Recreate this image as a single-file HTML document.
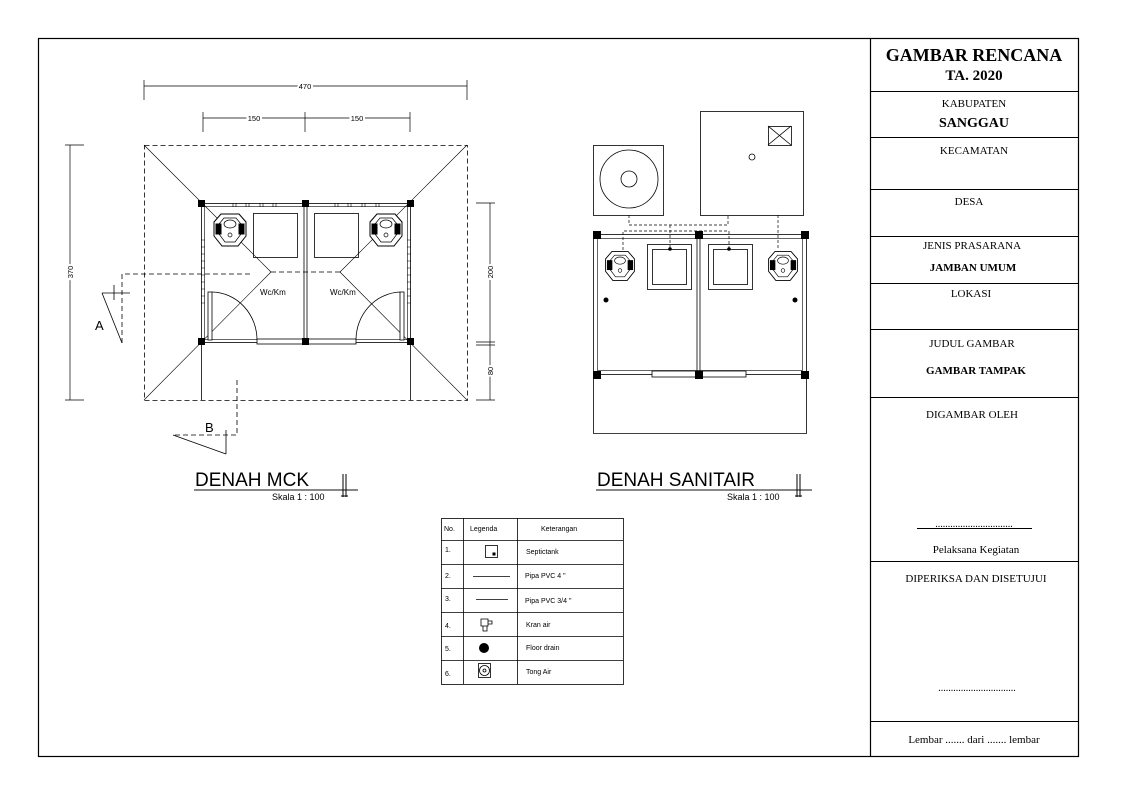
<!DOCTYPE html>
<html><head><meta charset="utf-8"><style>
html,body{margin:0;padding:0;background:#fff}
svg{display:block}
.s{font-family:"Liberation Serif","DejaVu Serif",serif;fill:#000}
.a{font-family:"Liberation Sans","DejaVu Sans",sans-serif;fill:#000}
</style></head><body>
<svg width="1122" height="793" viewBox="0 0 1122 793" xmlns="http://www.w3.org/2000/svg">
<defs>
<g id="wc">
 <path d="M-9,-16 L9,-16 L16,-8 L16,6 L8,16 L-8,16 L-16,6 L-16,-8 Z" fill="#fff" stroke="#000" stroke-width="1"/>
 <path d="M-6,-12 L6,-12 L11,-6 L11,4 L5,12 L-5,12 L-11,4 L-11,-6 Z" fill="none" stroke="#000" stroke-width="0.7"/>
 <rect x="-14" y="-6" width="5" height="10" fill="#000"/>
 <rect x="9" y="-6" width="5" height="10" fill="#000"/>
 <ellipse cx="0" cy="-6" rx="6" ry="4" fill="none" stroke="#000" stroke-width="0.7"/>
 <circle cx="0" cy="5" r="2" fill="none" stroke="#000" stroke-width="0.7"/>
</g>
</defs>
<g fill="none" stroke="#000">
<rect x="38.5" y="38.5" width="1040" height="718" stroke-width="1.2"/>
<line x1="870.5" y1="38" x2="870.5" y2="757" stroke-width="1.2"/>
<g stroke-width="1">
<line x1="870" y1="91.5" x2="1078" y2="91.5"/>
<line x1="870" y1="137.5" x2="1078" y2="137.5"/>
<line x1="870" y1="189.5" x2="1078" y2="189.5"/>
<line x1="870" y1="236.5" x2="1078" y2="236.5"/>
<line x1="870" y1="283.5" x2="1078" y2="283.5"/>
<line x1="870" y1="329.5" x2="1078" y2="329.5"/>
<line x1="870" y1="397.5" x2="1078" y2="397.5"/>
<line x1="870" y1="561.5" x2="1078" y2="561.5"/>
<line x1="870" y1="721.5" x2="1078" y2="721.5"/>
<line x1="917" y1="528.5" x2="1032" y2="528.5"/>
</g>

<g stroke-width="0.8">
<rect x="144.5" y="145.5" width="323" height="255" stroke-dasharray="5,3"/>
<line x1="144" y1="145" x2="271" y2="272" stroke-width="0.6"/>
<line x1="144" y1="400" x2="271" y2="272" stroke-width="0.6"/>
<line x1="467" y1="145" x2="340" y2="272" stroke-width="0.6"/>
<line x1="467" y1="400" x2="340" y2="272" stroke-width="0.6"/>
<line x1="271" y1="272" x2="340" y2="272" stroke-dasharray="5,3"/>
<rect x="201.5" y="203.5" width="209" height="139"/>
<rect x="204.5" y="206.5" width="203" height="133" stroke-width="0.6"/>
<line x1="304" y1="203" x2="304" y2="342"/><line x1="307" y1="203" x2="307" y2="342"/>
<line x1="201.5" y1="342" x2="201.5" y2="400"/><line x1="410.5" y1="342" x2="410.5" y2="400"/>
<!-- window ticks -->
<g stroke-width="0.6">
<path d="M233,203 V207 M236,203 V207 M246,203 V207 M249,203 V207 M260,203 V207 M263,203 V207 M273,203 V207 M276,203 V207"/>
<path d="M335,203 V207 M338,203 V207 M348,203 V207 M351,203 V207 M362,203 V207 M365,203 V207 M376,203 V207 M379,203 V207"/>
<path d="M201,240 H205 M201,247 H205 M201,254 H205 M201,261 H205 M201,268 H205 M201,275 H205 M201,282 H205 M201,289 H205 M201,296 H205 M201,303 H205"/>
<path d="M407,240 H411 M407,247 H411 M407,254 H411 M407,261 H411 M407,268 H411 M407,275 H411 M407,282 H411 M407,289 H411 M407,296 H411 M407,303 H411"/>
</g>
<rect x="257" y="339" width="46" height="5" fill="#fff"/>
<rect x="307" y="339" width="49" height="5" fill="#fff"/>
<rect x="208" y="292" width="4" height="48" fill="#fff"/>
<rect x="400" y="292" width="4" height="48" fill="#fff"/>
<path d="M212,292 A46,48 0 0 1 257,340"/>
<path d="M400,292 A46,48 0 0 0 356,340"/>
<rect x="253.5" y="213.5" width="44" height="44"/>
<rect x="314.5" y="213.5" width="44" height="44"/>
</g>
<g fill="#000" stroke="none">
<rect x="198" y="200" width="7" height="7"/><rect x="302" y="200" width="7" height="7"/><rect x="407" y="200" width="7" height="7"/>
<rect x="198" y="338" width="7" height="7"/><rect x="302" y="338" width="7" height="7"/><rect x="407" y="338" width="7" height="7"/>
</g>
<use href="#wc" x="230" y="230"/>
<use href="#wc" x="386" y="230"/>
<g stroke-width="0.7">
<line x1="144" y1="86" x2="467" y2="86"/><line x1="144" y1="80" x2="144" y2="100"/><line x1="467" y1="80" x2="467" y2="100"/>
<line x1="203" y1="118" x2="410" y2="118"/><line x1="203" y1="112" x2="203" y2="132"/><line x1="305" y1="112" x2="305" y2="132"/><line x1="410" y1="112" x2="410" y2="132"/>
<line x1="70" y1="145" x2="70" y2="400"/><line x1="65" y1="145" x2="84" y2="145"/><line x1="65" y1="400" x2="84" y2="400"/>
<line x1="490" y1="203" x2="490" y2="400"/><line x1="476" y1="203" x2="495" y2="203"/><line x1="476" y1="342" x2="495" y2="342"/><line x1="476" y1="345" x2="495" y2="345"/><line x1="476" y1="400" x2="495" y2="400"/>
</g>
<g stroke-width="0.8" stroke-dasharray="5,3">
<path d="M250,274 H122 V343"/>
<path d="M237,380 V435 H173"/>
</g>
<g stroke-width="0.8">
<path d="M102,293 L122,343 M102,293 H130 M114,285 V300"/>
<path d="M173,435 L226,454 M226,430 V454"/>
</g>
<line x1="194" y1="490" x2="358" y2="490" stroke="#888" stroke-width="2"/>
<path d="M343,474 V497 M346,474 V497 M341,496 H348" stroke-width="1"/>
<line x1="596" y1="490" x2="812" y2="490" stroke="#888" stroke-width="2"/>
<path d="M797,474 V497 M800,474 V497 M795,496 H802" stroke-width="1"/>

<g stroke-width="0.8">
<rect x="593.5" y="145.5" width="70" height="70"/>
<circle cx="629" cy="179" r="29"/><circle cx="629" cy="179" r="8"/>
<rect x="700.5" y="111.5" width="103" height="104"/>
<rect x="768.5" y="126.5" width="23" height="19"/>
<path d="M768,126 L791,145 M791,126 L768,145"/>
<circle cx="752" cy="157" r="3"/>
<rect x="593.5" y="234.5" width="213" height="140"/>
<rect x="597.5" y="238.5" width="205" height="132" stroke-width="0.6"/>
<line x1="697" y1="234" x2="697" y2="374"/><line x1="700" y1="234" x2="700" y2="374"/>
<line x1="593.5" y1="374" x2="593.5" y2="433"/><line x1="806.5" y1="374" x2="806.5" y2="433"/><line x1="593" y1="433.5" x2="807" y2="433.5"/>
<rect x="652" y="371" width="94" height="6" fill="#fff"/>
<rect x="647.5" y="244.5" width="44" height="45"/><rect x="652.5" y="249.5" width="34" height="35"/>
<rect x="708.5" y="244.5" width="44" height="45"/><rect x="713.5" y="249.5" width="34" height="35"/>
</g>
<g stroke-width="0.7" stroke-dasharray="3,2">
<path d="M629,215 V225 H728 V215"/>
<path d="M670,225 V248"/>
<path d="M623,250 V231 H729 V248"/>
<path d="M778,215 V250"/>
</g>
<g fill="#000" stroke="none">
<rect x="593" y="231" width="8" height="8"/><rect x="695" y="231" width="8" height="8"/><rect x="801" y="231" width="8" height="8"/>
<rect x="593" y="371" width="8" height="8"/><rect x="695" y="371" width="8" height="8"/><rect x="801" y="371" width="8" height="8"/>
<circle cx="606" cy="300" r="2.5"/><circle cx="795" cy="300" r="2.5"/>
<circle cx="670" cy="249" r="1.8"/><circle cx="729" cy="249" r="1.8"/>
</g>
<use href="#wc" x="620" y="266" transform="translate(620,266) scale(0.9) translate(-620,-266)"/>
<use href="#wc" x="783" y="266" transform="translate(783,266) scale(0.9) translate(-783,-266)"/>

<g stroke-width="0.8">
<rect x="441.5" y="518.5" width="182" height="166"/>
<line x1="463.5" y1="518" x2="463.5" y2="684"/><line x1="517.5" y1="518" x2="517.5" y2="684"/>
<line x1="441" y1="540.5" x2="623" y2="540.5"/><line x1="441" y1="564.5" x2="623" y2="564.5"/><line x1="441" y1="588.5" x2="623" y2="588.5"/>
<line x1="441" y1="612.5" x2="623" y2="612.5"/><line x1="441" y1="636.5" x2="623" y2="636.5"/><line x1="441" y1="660.5" x2="623" y2="660.5"/>
<rect x="485.5" y="545.5" width="12" height="12"/>
<line x1="473" y1="576.5" x2="510" y2="576.5"/><line x1="476" y1="599.5" x2="508" y2="599.5"/>
<path d="M481,619 H488 V626 H481 Z M488,621 H492 V624 H488 M483,626 V631 H487 V626"/>
<rect x="478.5" y="663.5" width="12" height="14"/><circle cx="484.5" cy="670.5" r="5"/><circle cx="484.5" cy="670.5" r="1.5"/>
</g>
<rect x="493" y="553" width="2" height="2" fill="#000"/>
<circle cx="484" cy="648" r="4.5" fill="#000"/>
</g>

<g class="a">
<text x="305" y="89" font-size="7.5" text-anchor="middle" style="paint-order:stroke" stroke="#fff" stroke-width="4">470</text>
<text x="254" y="121" font-size="7.5" text-anchor="middle" stroke="#fff" stroke-width="4" style="paint-order:stroke">150</text>
<text x="357" y="121" font-size="7.5" text-anchor="middle" stroke="#fff" stroke-width="4" style="paint-order:stroke">150</text>
<text transform="translate(73,272) rotate(-90)" font-size="7.5" text-anchor="middle" stroke="#fff" stroke-width="4" style="paint-order:stroke">370</text>
<text transform="translate(493,272) rotate(-90)" font-size="7.5" text-anchor="middle" stroke="#fff" stroke-width="4" style="paint-order:stroke">200</text>
<text transform="translate(493,371) rotate(-90)" font-size="7.5" text-anchor="middle" stroke="#fff" stroke-width="4" style="paint-order:stroke">80</text>
<text x="260" y="295" font-size="8">Wc/Km</text>
<text x="330" y="295" font-size="8">Wc/Km</text>
<text x="95" y="330" font-size="13">A</text>
<text x="205" y="432" font-size="13">B</text>
<text x="195" y="486" font-size="19">DENAH MCK</text>
<text x="272" y="500" font-size="9">Skala 1 : 100</text>
<text x="597" y="486" font-size="19">DENAH SANITAIR</text>
<text x="727" y="500" font-size="9">Skala 1 : 100</text>
<g font-size="7">
<text x="444" y="531">No.</text><text x="470" y="531">Legenda</text><text x="541" y="531">Keterangan</text>
<text x="445" y="552">1.</text><text x="526" y="554">Septictank</text>
<text x="445" y="578">2.</text><text x="525" y="578">Pipa PVC 4 "</text>
<text x="445" y="601">3.</text><text x="525" y="603">Pipa PVC 3/4 "</text>
<text x="445" y="628">4.</text><text x="526" y="627">Kran air</text>
<text x="445" y="651">5.</text><text x="526" y="650">Floor drain</text>
<text x="445" y="676">6.</text><text x="526" y="674">Tong Air</text>
</g>
</g>
<g class="s" text-anchor="middle">
<text x="974" y="61" font-size="18" font-weight="bold">GAMBAR RENCANA</text>
<text x="974" y="80" font-size="15" font-weight="bold">TA. 2020</text>
<text x="974" y="107" font-size="11">KABUPATEN</text>
<text x="974" y="127" font-size="14" font-weight="bold">SANGGAU</text>
<text x="974" y="154" font-size="11">KECAMATAN</text>
<text x="969" y="205" font-size="11">DESA</text>
<text x="972" y="249" font-size="11">JENIS PRASARANA</text>
<text x="973" y="271" font-size="11" font-weight="bold">JAMBAN UMUM</text>
<text x="971" y="297" font-size="11">LOKASI</text>
<text x="972" y="347" font-size="11">JUDUL GAMBAR</text>
<text x="976" y="374" font-size="11" font-weight="bold">GAMBAR TAMPAK</text>
<text x="972" y="418" font-size="11">DIGAMBAR OLEH</text>
<text x="974" y="527" font-size="10">...............................</text>
<text x="976" y="553" font-size="11">Pelaksana Kegiatan</text>
<text x="976" y="582" font-size="11">DIPERIKSA DAN DISETUJUI</text>
<text x="977" y="691" font-size="10">...............................</text>
<text x="974" y="743" font-size="11">Lembar ....... dari ....... lembar</text>
</g>
</svg>
</body></html>
